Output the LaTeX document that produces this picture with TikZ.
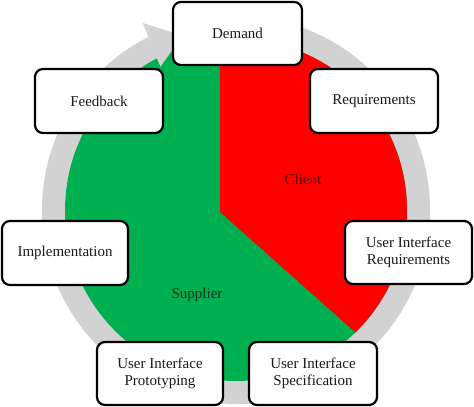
\documentclass[tikz,border=0pt]{standalone}
\usepackage{fontspec}
\setmainfont{Liberation Serif}
\definecolor{pgreen}{RGB}{0,176,80}
\definecolor{pred}{RGB}{255,0,0}
\definecolor{ringgray}{RGB}{210,210,210}
\definecolor{clienttxt}{RGB}{90,10,10}
\definecolor{suppliertxt}{RGB}{15,50,25}
\tikzset{
  stage/.style={draw=black, line width=2.2pt, fill=white, rounded corners=8pt,
    align=center, font=\fontsize{15}{17}\selectfont, text=black!90,
    minimum width=127pt, minimum height=63pt, inner sep=2pt},
  sidelabel/.style={font=\fontsize{15}{17}\selectfont}
}
\begin{document}
\begin{tikzpicture}[x=1pt,y=-1pt]
\useasboundingbox (0,0) rectangle (474,407);
\coordinate (c) at (236,210);
% gray circular arrow body
\fill[ringgray] ([shift={(236,210)}]280:194) arc[start angle=280, end angle=603, radius=194]
   -- ([shift={(236,210)}]603:171) arc[start angle=603, end angle=280, radius=171] -- cycle;
% pie
\fill[pgreen] (c) circle[radius=171];
\fill[pred] (220,212) -- ([shift={(236,210)}]45.7:171) arc[start angle=45.7, end angle=-95.4, radius=171] -- cycle;
% arrow head
\fill[ringgray] ([shift={(236,210)}]243.5:209) -- ([shift={(236,210)}]253:182.5) -- ([shift={(236,210)}]242.2:162) -- cycle;
% labels
\node[sidelabel, text=clienttxt] (client) at (303,179) {Client};
\node[sidelabel, text=suppliertxt] (supplier) at (197,295) {Supplier};
% boxes
\node[stage, minimum width=129pt] (demand) at (237.5,33.5) {Demand};
\node[stage, minimum width=128pt, minimum height=64pt] (feedback) at (99,101) {Feedback};
\node[stage, minimum width=128pt, minimum height=64pt] (req) at (374,101) {Requirements};
\node[stage, minimum width=126pt, minimum height=64pt] (impl) at (65,253) {Implementation};
\node[stage] (uireq) at (408.5,252.5) {User Interface\\Requirements};
\node[stage, minimum width=126pt] (uiproto) at (160,373.5) {User Interface\\Prototyping};
\node[stage, minimum width=128pt] (uispec) at (313,373.5) {User Interface\\Specification};
\end{tikzpicture}
\end{document}
